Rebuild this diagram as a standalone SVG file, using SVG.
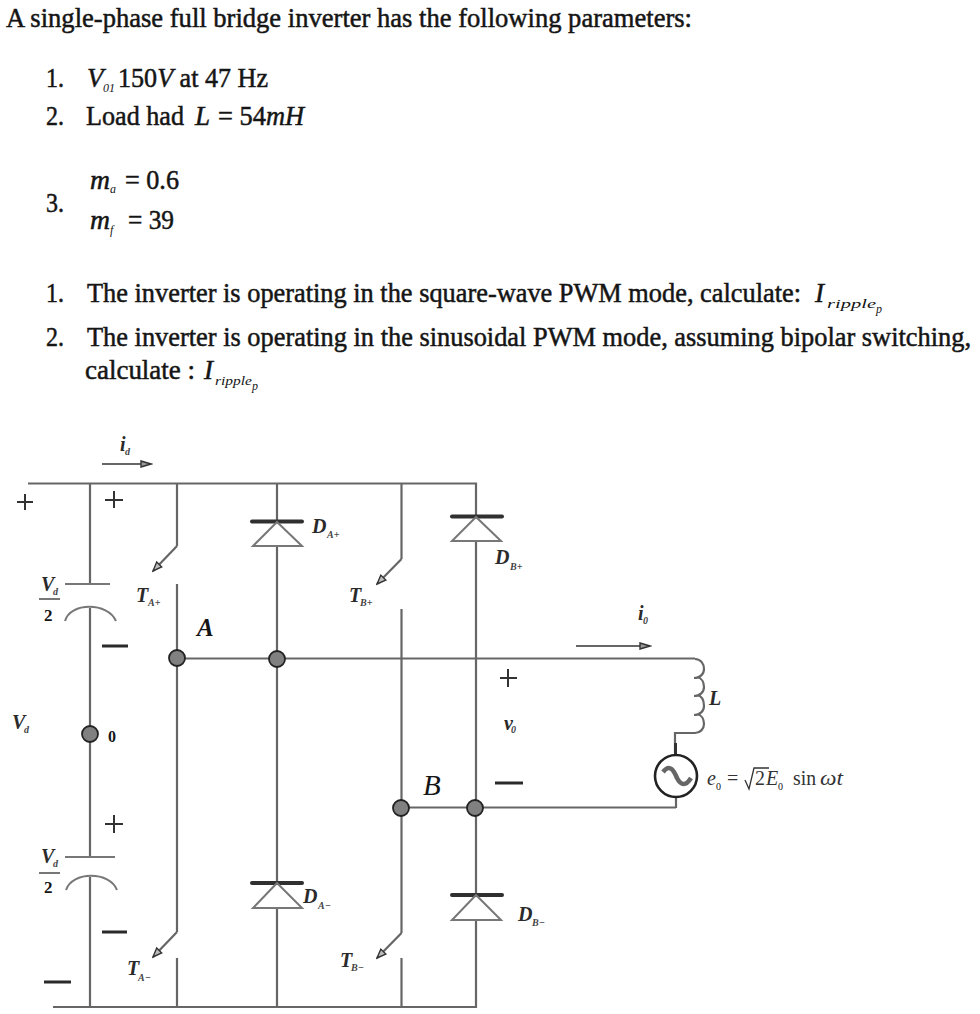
<svg xmlns="http://www.w3.org/2000/svg" width="980" height="1014" viewBox="0 0 980 1014">
<style>
text{font-family:"Liberation Serif","Times New Roman",serif;fill:#151515}
.t{font-size:27px;stroke:#151515;stroke-width:.5}
.i{font-style:italic}
.s{font-size:12px;font-style:italic}
.l{font-size:20px;font-style:italic;font-weight:bold;fill:#2a2a2a}
.sb{font-size:10px;font-style:italic;font-weight:bold;fill:#444}
.e{font-size:20px;fill:#333}
.w{fill:none;stroke:#666;stroke-width:2.2}
.d{fill:none;stroke:#777;stroke-width:2}
.bar{stroke:#303030;stroke-width:4;stroke-linecap:round}
.sign{stroke:#333;stroke-width:2;fill:none}
.dash{stroke:#2a2a2a;stroke-width:3.2}
.dot{fill:#808080;stroke:#222;stroke-width:1.8}
</style>
<defs>
<marker id="ah" markerWidth="13" markerHeight="9" refX="11" refY="4" orient="auto" markerUnits="userSpaceOnUse"><path d="M1 1 L11 4 L1 7Z" fill="#999" stroke="#333" stroke-width="1.4"/></marker>
<marker id="sw" markerWidth="13" markerHeight="10" refX="11" refY="4.5" orient="auto" markerUnits="userSpaceOnUse"><path d="M2 1 L11 4.5 L2 8Z" fill="#bbb" stroke="#333" stroke-width="1.4"/></marker>
</defs>

<g id="problem-text">
<text class="t" x="6" y="27" textLength="686" lengthAdjust="spacingAndGlyphs">A single-phase full bridge inverter has the following parameters:</text>
<text class="t" x="46" y="87" textLength="18" lengthAdjust="spacingAndGlyphs">1.</text>
<text class="t i" x="87" y="87">V</text><text class="s" x="103" y="92">01</text>
<text class="t" x="118" y="87" textLength="150" lengthAdjust="spacingAndGlyphs">150<tspan font-style="italic">V</tspan> at 47 Hz</text>
<text class="t" x="46" y="125" textLength="18" lengthAdjust="spacingAndGlyphs">2.</text>
<text class="t" x="86" y="125" textLength="98" lengthAdjust="spacingAndGlyphs">Load had</text>
<text class="t i" x="195" y="125">L</text>
<text class="t" x="218" y="125" textLength="86" lengthAdjust="spacingAndGlyphs">= 54<tspan font-style="italic">mH</tspan></text>
<text class="t" x="46" y="212" textLength="18" lengthAdjust="spacingAndGlyphs">3.</text>
<text class="t i" x="90" y="189" textLength="20" lengthAdjust="spacingAndGlyphs">m</text><text class="s" x="110" y="193">a</text>
<text class="t" x="125" y="189" textLength="54" lengthAdjust="spacingAndGlyphs">= 0.6</text>
<text class="t i" x="90" y="229" textLength="20" lengthAdjust="spacingAndGlyphs">m</text><text class="s" x="110" y="234">f</text>
<text class="t" x="128" y="229" textLength="46" lengthAdjust="spacingAndGlyphs">= 39</text>
<text class="t" x="46" y="302" textLength="18" lengthAdjust="spacingAndGlyphs">1.</text>
<text class="t" x="87" y="302" textLength="714" lengthAdjust="spacingAndGlyphs">The inverter is operating in the square-wave PWM mode, calculate:</text>
<text class="t i" x="815" y="302">I</text><text class="s" x="827" y="308" textLength="49" lengthAdjust="spacingAndGlyphs">ripple</text><text class="s" x="876" y="313" font-size="10">p</text>
<text class="t" x="46" y="346" textLength="18" lengthAdjust="spacingAndGlyphs">2.</text>
<text class="t" x="87" y="346" textLength="884" lengthAdjust="spacingAndGlyphs">The inverter is operating in the sinusoidal PWM mode, assuming bipolar switching,</text>
<text class="t" x="85" y="379" textLength="110" lengthAdjust="spacingAndGlyphs">calculate :</text>
<text class="t i" x="204" y="379">I</text><text class="s" x="215" y="385" textLength="37" lengthAdjust="spacingAndGlyphs">ripple</text><text class="s" x="252" y="390" font-size="10">p</text>
</g>

<g id="connectors">
<path class="w" d="M28 483.5H476V516M53 1007H476V920M476 541V895"/>
<path class="w" d="M177 658.5H695"/>
<path class="w" d="M401 807.5H676"/>
<path class="w" d="M90 483V584M90 608V857M90 877V1007"/>
<path class="w" d="M177 483V546"/><path class="w" d="M177 584V932"/><path class="w" d="M177 958V1007"/>
<path class="w" d="M277 483V521M277 546V883M277 908V1007"/>
<path class="w" d="M401.5 483V559"/><path class="w" d="M401.5 609V933"/><path class="w" d="M401.5 958V1007"/>
<path class="w" d="M177 546L153 571" marker-end="url(#sw)"/>
<path class="w" d="M177 932L153 957" marker-end="url(#sw)"/>
<path class="w" d="M401.5 559L377 584" marker-end="url(#sw)"/>
<path class="w" d="M401.5 933L377 958" marker-end="url(#sw)"/>
<path class="w" d="M102 464H151" marker-end="url(#ah)"/>
<path class="w" d="M576 646H650" marker-end="url(#ah)"/>
<path class="w" d="M675 753V733H695M676 797V808"/>
</g>

<g id="cap-upper"><path class="d" d="M65 584H110"/><path class="d" d="M65 621C70 602 108 602 116 621"/></g>
<g id="cap-lower"><path class="d" d="M65 857H115"/><path class="d" d="M66 890C72 871 110 871 117 890"/></g>

<g id="diode-da-plus"><path class="bar" d="M252 521.5H302"/><path class="d" d="M277 522L253 546H302Z"/></g>
<g id="diode-da-minus"><path class="bar" d="M252 883H302"/><path class="d" d="M277 883L253 908H302Z"/></g>
<g id="diode-db-plus"><path class="bar" d="M452 516.5H502"/><path class="d" d="M476 517L452 541H501Z"/></g>
<g id="diode-db-minus"><path class="bar" d="M452 895H502"/><path class="d" d="M476 895L452 920H501Z"/></g>

<g id="inductor"><path class="w" d="M695 659C701 659 704 664 704 669C704 674 700 678 694 678M697 677C702 678 704 683 704 687C704 692 700 696 694 696M697 695C702 696 704 701 704 706C704 711 700 715 694 715M697 714C702 715 704 720 704 724C704 729 700 733 695 733"/></g>
<g id="source">
<circle cx="676" cy="776" r="21" fill="#fff" stroke="#222" stroke-width="2.6"/>
<path d="M663 772C670 763 674 771 677 778C681 786 686 786 691 778" fill="none" stroke="#666" stroke-width="4.5"/>
<path d="M675.5 743V754" stroke="#333" stroke-width="3"/>
</g>

<g id="node-a-left"><circle class="dot" cx="177" cy="658" r="8"/></g>
<g id="node-a-right"><circle class="dot" cx="277" cy="659" r="8"/></g>
<g id="node-b-left"><circle class="dot" cx="401" cy="808" r="8"/></g>
<g id="node-b-right"><circle class="dot" cx="475" cy="808" r="8"/></g>
<g id="node-zero"><circle class="dot" cx="90" cy="734" r="8"/></g>

<g id="signs">
<path class="sign" d="M17 502H33M25 494V510"/>
<path class="sign" d="M105 500H123M114 491V508"/>
<path class="sign" d="M500 678H517M508 669V687"/>
<path class="sign" d="M105 824H123M114 815V833"/>
<path class="dash" d="M102 646H128M102 932H127M44 982H71M495 783H523"/>
</g>

<g id="labels">
<text class="l" x="120" y="451" font-size="17">i</text><text class="sb" x="125" y="455">d</text>
<text class="l" x="638" y="620" font-size="17">i</text><text class="sb" x="643" y="624">0</text>
<text class="l" x="41" y="591" font-size="18">V</text><text class="sb" x="53" y="595">d</text>
<path class="d" d="M39 599H60" stroke="#444"/>
<text x="44" y="621" font-size="17" font-weight="bold">2</text>
<text class="l" x="41" y="863" font-size="18">V</text><text class="sb" x="53" y="867">d</text>
<path class="d" d="M39 873H60" stroke="#444"/>
<text x="44" y="893" font-size="17" font-weight="bold">2</text>
<text class="l" x="12" y="729" font-size="18">V</text><text class="sb" x="24" y="733">d</text>
<text x="108" y="742" font-size="16" font-weight="bold" fill="#555">0</text>
<text class="l" x="136" y="602">T</text><text class="sb" x="148" y="606">A+</text>
<text class="l" x="127" y="975">T</text><text class="sb" x="138" y="981">A−</text>
<text class="l" x="349" y="602">T</text><text class="sb" x="360" y="606">B+</text>
<text class="l" x="340" y="967" font-size="18">T</text><text class="sb" x="351" y="971">B−</text>
<text class="l" x="312" y="533">D</text><text class="sb" x="327" y="538">A+</text>
<text class="l" x="303" y="903">D</text><text class="sb" x="318" y="909">A−</text>
<text class="l" x="495" y="564">D</text><text class="sb" x="510" y="570">B+</text>
<text class="l" x="518" y="921" font-size="18">D</text><text class="sb" x="532" y="926">B−</text>
<text class="i" x="197" y="636" font-size="25" font-weight="bold" fill="#333">A</text>
<text class="i" x="423" y="795" font-size="29" fill="#222">B</text>
<text class="l" x="709" y="705">L</text>
<text class="l" x="504" y="730" font-size="14">v</text><text class="sb" x="511" y="733">0</text>
<text class="e i" x="707" y="785">e</text><text x="716" y="790" font-size="10" fill="#444">0</text>
<text class="e" x="727" y="785">=</text>
<path d="M745 780L749 789L754 768H769" fill="none" stroke="#333" stroke-width="1.3"/>
<text class="e" x="755" y="785">2</text>
<text class="e i" x="766" y="785">E</text><text x="778" y="790" font-size="10" fill="#444">0</text>
<text class="e" x="793" y="785" textLength="23" lengthAdjust="spacingAndGlyphs">sin</text>
<text class="e i" x="820" y="785" textLength="23" lengthAdjust="spacingAndGlyphs">ωt</text>
</g>
</svg>
